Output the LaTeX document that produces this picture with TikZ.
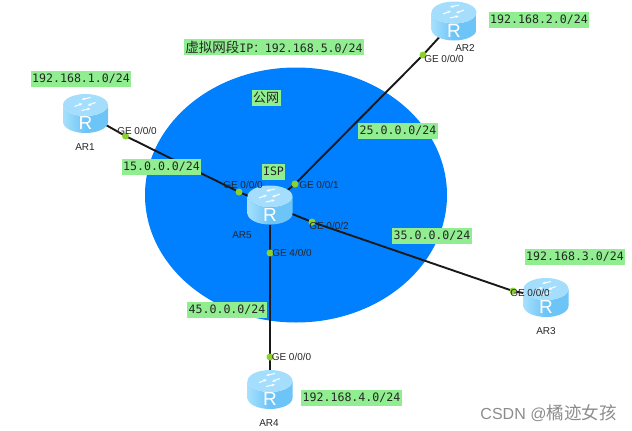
\documentclass[tikz,border=0pt]{standalone}
\usepackage{fontspec}
\setmainfont{Liberation Sans}
\setmonofont{DejaVu Sans Mono}
\newfontfamily\cjk{Noto Sans CJK SC}
\usetikzlibrary{shapes.geometric,backgrounds,arrows.meta}
\pgfdeclarelayer{links}
\pgfsetlayers{background,links,main}
\definecolor{netblue}{HTML}{0080FF}
\definecolor{notegreen}{HTML}{90EE90}
\definecolor{portgreen}{HTML}{8CD02C}
\definecolor{routerside}{HTML}{A6E0FC}
\definecolor{routerbody}{HTML}{6CC4F7}
\definecolor{routertop}{HTML}{A4DEFC}
\tikzset{router/.pic={
    \node[ellipse, minimum width=45pt, minimum height=39pt, inner sep=0pt] (-body) at (0,0) {};
    \shade[left color=routerside, right color=routerbody, middle color=routerbody]
      (-22.5,-8.5) -- (-22.5,8.5) arc [start angle=180, end angle=0, x radius=22.5, y radius=11]
      -- (22.5,-8.5) arc [start angle=0, end angle=180, x radius=22.5, y radius=11] -- cycle;
    \fill[routertop] (0,-8.5) ellipse [x radius=22.5, y radius=11];
    \node[text=white, font=\fontsize{19}{19}\selectfont, inner sep=0pt] (-mark) at (0,9.5) {R};
    \draw[white, line width=1pt, -{Stealth[length=3.5pt]}] (-11,-7) -- (-3,-10);
    \draw[white, line width=1pt, -{Stealth[length=3.5pt]}] (5,-16) -- (-4,-14);
    \draw[white, line width=1pt, -{Stealth[length=3.5pt]}] (10,-11) -- (2,-8);
    \draw[white, line width=1pt, -{Stealth[length=3.5pt]}] (-4,-3) -- (5,-5);
  },
  note/.style={fill=notegreen, inner xsep=1.5pt, inner ysep=0pt, minimum height=16pt, text=black!85,
    font=\ttfamily\fontsize{11.6}{12}\selectfont},
  port/.style={text=black!85, inner sep=0pt, font=\fontsize{10}{10}\selectfont},
  host/.style={text=black!85, inner sep=0pt, font=\fontsize{10}{10}\selectfont},
  portdot/.style={circle, fill=portgreen, inner sep=0pt, minimum size=7pt},
  link/.style={line width=1.9pt, black!90}}
\begin{document}
\begin{tikzpicture}[x=1pt,y=-1pt]
        \useasboundingbox (0,0) rectangle (632,431);
        \begin{pgfonlayer}{background}
        \fill[netblue] (296,195) ellipse [x radius=151, y radius=127.5];
        \end{pgfonlayer}

        \pic (ar1) at (85.5,113.5) {router};
        \pic (ar2) at (454,21) {router};
        \pic (ar3) at (546,297.5) {router};
        \pic (ar4) at (270,389.5) {router};
        \pic (ar5) at (270,205) {router};

        \node[portdot] (p1) at (125.5,136) {};
        \node[portdot] (p2) at (423,55) {};
        \node[portdot] (p3) at (513,291) {};
        \node[portdot] (p4) at (270,357) {};
        \node[portdot] (p50) at (239,192) {};
        \node[portdot] (p51) at (295,184) {};
        \node[portdot] (p52) at (312,222) {};
        \node[portdot] (p54) at (270,253) {};

        \begin{pgfonlayer}{links}
        \draw[link] (ar1-body) -- (p1.center) -- (p50.center) -- (ar5-body);
        \draw[link] (ar2-body) -- (p2.center) -- (p51.center) -- (ar5-body);
        \draw[link] (ar3-body) -- (p3.center) -- (p52.center) -- (ar5-body);
        \draw[link] (ar4-body) -- (p4.center) -- (p54.center) -- (ar5-body);
        \end{pgfonlayer}

        \node[port] (g1) at (137,131) {GE 0/0/0};
        \node[port] (g2) at (444,59) {GE 0/0/0};
        \node[port] (g3) at (530,293) {GE 0/0/0};
        \node[port] (g4) at (291.5,357) {GE 0/0/0};
        \node[port] (g50) at (243,185) {GE 0/0/0};
        \node[port] (g51) at (319,185) {GE 0/0/1};
        \node[port] (g52) at (329,226) {GE 0/0/2};
        \node[port] (g54) at (292,253) {GE 4/0/0};

        \node[host] (n1) at (85,147) {AR1};
        \node[host] (n2) at (465,48) {AR2};
        \node[host] (n3) at (546,331) {AR3};
        \node[host] (n4) at (269,423) {AR4};
        \node[host] (n5) at (242,235) {AR5};

        \node[note] (lan1) at (81,79) {192.168.1.0/24};
        \node[note] (lan2) at (539,20) {192.168.2.0/24};
        \node[note] (lan3) at (575,256.5) {192.168.3.0/24};
        \node[note] (lan4) at (351.5,398) {192.168.4.0/24};
        \node[note] (wan1) at (161.5,167) {15.0.0.0/24};
        \node[note] (wan2) at (398,131) {25.0.0.0/24};
        \node[note] (wan3) at (432,236) {35.0.0.0/24};
        \node[note] (wan4) at (227,309.5) {45.0.0.0/24};
        \node[note] (isp) at (273.5,171.5) {ISP};
        \node[note] (pub) at (266,98) {\cjk\fontsize{13}{13}\selectfont 公网};
        \node[note] (vnet) at (274,47) {{\cjk\fontsize{13.5}{13.5}\selectfont 虚拟网段}IP{\cjk：}192.168.5.0/24};

        \node[inner sep=0pt, text=black!45, font=\fontsize{16}{16}\selectfont] (mark) at (548.5,413) {CSDN @{\cjk\fontsize{17.5}{17.5}\selectfont 橘迹女孩}};
    \end{tikzpicture}
\end{document}
